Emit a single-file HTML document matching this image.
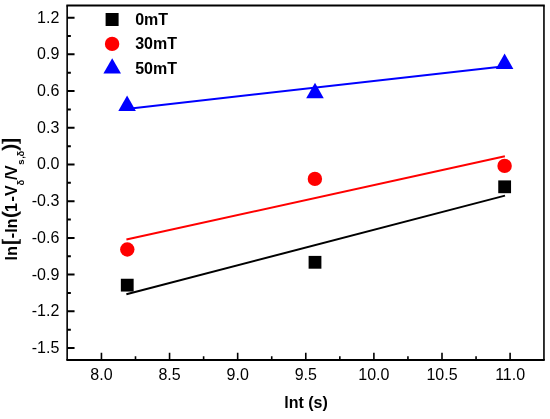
<!DOCTYPE html><html><head><meta charset="utf-8"><style>html,body{margin:0;padding:0;background:#fff;}svg{display:block;}text{font-family:"Liberation Sans",Arial,sans-serif;}</style></head><body>
<svg width="550" height="419" viewBox="0 0 550 419">
<rect x="0" y="0" width="550" height="419" fill="#fff"/>
<path d="M66.35 5.60H544.75M66.35 360.00H544.75M67.15 17.65H74.55M67.15 36.00H70.85M67.15 54.36H74.55M67.15 72.72H70.85M67.15 91.07H74.55M67.15 109.42H70.85M67.15 127.78H74.55M67.15 146.13H70.85M67.15 164.49H74.55M67.15 182.84H70.85M67.15 201.20H74.55M67.15 219.56H70.85M67.15 237.91H74.55M67.15 256.26H70.85M67.15 274.62H74.55M67.15 292.98H70.85M67.15 311.33H74.55M67.15 329.69H70.85M67.15 348.04H74.55" stroke="#000" stroke-width="2.0" fill="none"/>
<path d="M67.15 5.60V360.00M543.95 5.60V360.00M101.45 360.00V352.80M169.56 360.00V352.80M237.67 360.00V352.80M305.78 360.00V352.80M373.89 360.00V352.80M442.00 360.00V352.80M510.11 360.00V352.80M135.50 360.00V356.20M203.62 360.00V356.20M271.73 360.00V356.20M339.83 360.00V356.20M407.94 360.00V356.20M476.06 360.00V356.20" stroke="#000" stroke-width="1.6" fill="none"/>
<text x="59.35" y="22.55" font-size="16" text-anchor="end">1.2</text>
<text x="59.35" y="59.26" font-size="16" text-anchor="end">0.9</text>
<text x="59.35" y="95.97" font-size="16" text-anchor="end">0.6</text>
<text x="59.35" y="132.68" font-size="16" text-anchor="end">0.3</text>
<text x="59.35" y="169.39" font-size="16" text-anchor="end">0.0</text>
<text x="59.35" y="206.10" font-size="16" text-anchor="end">-0.3</text>
<text x="59.35" y="242.81" font-size="16" text-anchor="end">-0.6</text>
<text x="59.35" y="279.52" font-size="16" text-anchor="end">-0.9</text>
<text x="59.35" y="316.23" font-size="16" text-anchor="end">-1.2</text>
<text x="59.35" y="352.94" font-size="16" text-anchor="end">-1.5</text>
<text x="101.45" y="380.00" font-size="16" text-anchor="middle">8.0</text>
<text x="169.56" y="380.00" font-size="16" text-anchor="middle">8.5</text>
<text x="237.67" y="380.00" font-size="16" text-anchor="middle">9.0</text>
<text x="305.78" y="380.00" font-size="16" text-anchor="middle">9.5</text>
<text x="373.89" y="380.00" font-size="16" text-anchor="middle">10.0</text>
<text x="442.00" y="380.00" font-size="16" text-anchor="middle">10.5</text>
<text x="510.11" y="380.00" font-size="16" text-anchor="middle">11.0</text>
<line x1="126.4" y1="108.95" x2="504.8" y2="66.25" stroke="#0000ff" stroke-width="2.0"/>
<line x1="126.4" y1="239.6" x2="504.9" y2="156.3" stroke="#ff0000" stroke-width="2.0"/>
<line x1="126.4" y1="294.3" x2="505.0" y2="195.6" stroke="#000" stroke-width="2.0"/>
<rect x="120.85" y="278.75" width="12.8" height="12.8" fill="#000"/>
<rect x="308.60" y="255.90" width="12.8" height="12.8" fill="#000"/>
<rect x="498.25" y="180.40" width="12.8" height="12.8" fill="#000"/>
<circle cx="127.30" cy="249.50" r="7.2" fill="#ff0000"/>
<circle cx="314.90" cy="178.90" r="7.2" fill="#ff0000"/>
<circle cx="504.60" cy="165.90" r="7.2" fill="#ff0000"/>
<path d="M127.10 95.60L135.90 111.00L118.30 111.00Z" fill="#0000ff"/>
<path d="M315.00 82.80L323.80 98.20L306.20 98.20Z" fill="#0000ff"/>
<path d="M504.60 53.60L513.40 69.00L495.80 69.00Z" fill="#0000ff"/>
<rect x="105.60" y="13.00" width="13.0" height="13.0" fill="#000"/>
<circle cx="112.10" cy="43.90" r="7.2" fill="#ff0000"/>
<path d="M112.20 58.20L121.00 73.60L103.40 73.60Z" fill="#0000ff"/>
<text x="135.2" y="24.8" font-size="16" font-weight="bold">0mT</text>
<text x="135.2" y="49.0" font-size="16" font-weight="bold">30mT</text>
<text x="135.2" y="73.6" font-size="16" font-weight="bold">50mT</text>
<text x="306" y="408" font-size="16" font-weight="bold" text-anchor="middle">lnt (s)</text>
<filter id="sb" x="-30%" y="-10%" width="160%" height="120%"><feOffset in="SourceGraphic" dx="0.9" dy="0" result="o"/><feMerge><feMergeNode in="o"/><feMergeNode in="SourceGraphic"/></feMerge></filter><g transform="translate(16.75 260.0) rotate(-90)" font-weight="bold"><text x="-0.56" y="0" font-size="16">l</text><text x="4.18" y="0" font-size="16">n</text><text x="14.81" y="0" font-size="19.3" font-weight="normal" filter="url(#sb)">[</text><text x="21.89" y="0" font-size="16">-</text><text x="27.34" y="0" font-size="16">l</text><text x="31.83" y="0" font-size="16">n</text><text x="41.64" y="0" font-size="19.3" font-weight="normal" filter="url(#sb)">(</text><text x="48.12" y="0" font-size="16">1</text><text x="58.49" y="0" font-size="16">-</text><text x="64.06" y="0" font-size="16">V</text><text x="74.52" y="7.1" font-size="9.5">δ</text><text x="79.98" y="0" font-size="16">/</text><text x="84.11" y="0" font-size="16">V</text><text x="95.29" y="7.1" font-size="9.5">s</text><text x="101.28" y="7.1" font-size="9.5">,</text><text x="103.62" y="7.1" font-size="9.5">δ</text><text x="108.98" y="0" font-size="19.3" font-weight="normal" filter="url(#sb)">)</text><text x="116.03" y="0" font-size="19.3" font-weight="normal" filter="url(#sb)">]</text></g>
</svg></body></html>
